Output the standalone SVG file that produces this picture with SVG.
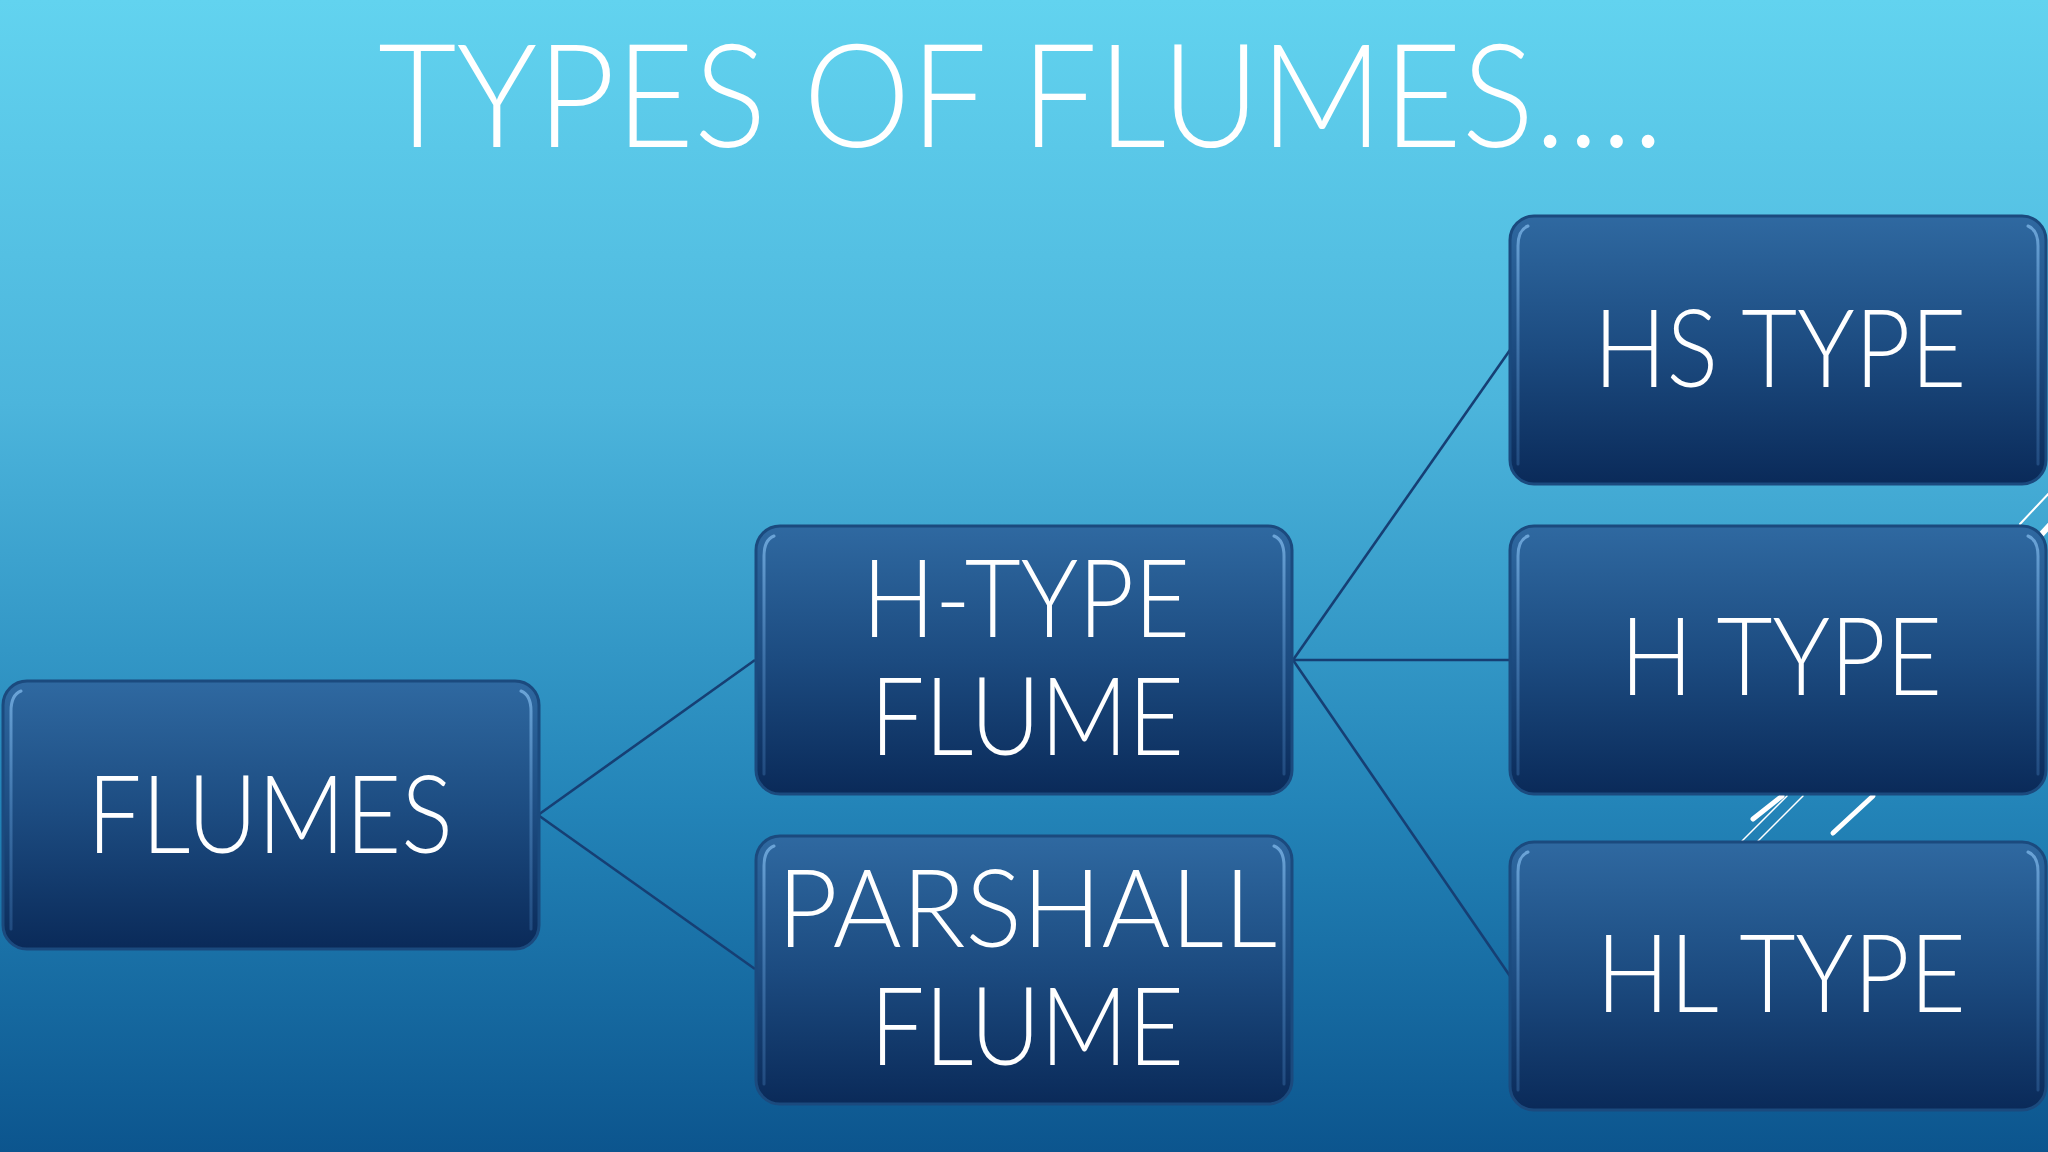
<svg xmlns="http://www.w3.org/2000/svg" width="2048" height="1152" viewBox="0 0 2048 1152">
  <defs>
    <linearGradient id="bg" x1="0" y1="0" x2="0" y2="1">
      <stop offset="0" stop-color="#62d3ef"/>
      <stop offset="0.35" stop-color="#4cb5dc"/>
      <stop offset="0.7" stop-color="#2384b8"/>
      <stop offset="1" stop-color="#0c558e"/>
    </linearGradient>
    <linearGradient id="boxFill" x1="0" y1="0" x2="0" y2="1">
      <stop offset="0" stop-color="#2f69a1"/>
      <stop offset="0.5" stop-color="#1c4b80"/>
      <stop offset="1" stop-color="#0a2a59"/>
    </linearGradient>
    <linearGradient id="edgeHl" x1="0" y1="0" x2="0" y2="1">
      <stop offset="0" stop-color="#7fb8ea" stop-opacity="0.75"/>
      <stop offset="0.5" stop-color="#5e97cf" stop-opacity="0.5"/>
      <stop offset="1" stop-color="#3a6ea8" stop-opacity="0.45"/>
    </linearGradient>
    <style>
      .rim { fill: url(#boxFill); stroke: #1b4a7e; stroke-width: 3; }
      .hl { fill: none; stroke: url(#edgeHl); stroke-width: 3; stroke-linecap: round; }
      .lbl { font-family: "Lato", "Liberation Sans", sans-serif; font-weight: 300; font-size: 108px; fill: #ffffff; text-anchor: middle; }
      .title { font-family: "Lato", "Liberation Sans", sans-serif; font-weight: 300; font-size: 145px; fill: #ffffff; }
      .conn { stroke: #163f74; stroke-width: 2.6; fill: none; }
      .deco { stroke: #ffffff; fill: none; stroke-linecap: round; }
    </style>
    <symbol id="box" viewBox="0 0 536 268" overflow="visible">
      <rect class="rim" x="0" y="0" width="536" height="268" rx="24" ry="24"/>
      <path class="hl" d="M8,248 V30 Q8,14 18,10"/>
      <path class="hl" d="M528,248 V30 Q528,14 518,10"/>
    </symbol>
  </defs>

  <rect x="0" y="0" width="2048" height="1152" fill="url(#bg)"/>

  <text class="title" x="378" y="147" textLength="1286" lengthAdjust="spacingAndGlyphs">TYPES OF FLUMES….</text>

  <g id="decor">
    <line class="deco" x1="2020" y1="524" x2="2052" y2="490" stroke-width="2"/>
    <line class="deco" x1="2038" y1="538" x2="2060" y2="514" stroke-width="6"/>
    <line class="deco" x1="1782" y1="796" x2="1753" y2="819" stroke-width="5"/>
    <line class="deco" x1="1787" y1="796" x2="1742" y2="841" stroke-width="1.5"/>
    <line class="deco" x1="1803" y1="796" x2="1758" y2="841" stroke-width="1.5"/>
    <line class="deco" x1="1873" y1="796" x2="1833" y2="833" stroke-width="5"/>
  </g>

  <g id="connectors">
    <line class="conn" x1="538" y1="815" x2="755" y2="660"/>
    <line class="conn" x1="538" y1="815" x2="755" y2="969"/>
    <line class="conn" x1="1293" y1="660" x2="1510" y2="350"/>
    <line class="conn" x1="1293" y1="660" x2="1510" y2="660" stroke-width="3.5"/>
    <line class="conn" x1="1293" y1="660" x2="1510" y2="976"/>
  </g>

  <g id="node-flumes">
    <use href="#box" x="3" y="681" width="536" height="268"/>
    <text class="lbl" x="270" y="853" textLength="366" lengthAdjust="spacingAndGlyphs">FLUMES</text>
  </g>

  <g id="node-htype-flume">
    <use href="#box" x="756" y="526" width="536" height="268"/>
    <text class="lbl" x="1026" y="637" textLength="328" lengthAdjust="spacingAndGlyphs">H-TYPE</text>
    <text class="lbl" x="1027" y="755" textLength="314" lengthAdjust="spacingAndGlyphs">FLUME</text>
  </g>

  <g id="node-parshall-flume">
    <use href="#box" x="756" y="836" width="536" height="268"/>
    <text class="lbl" x="1027" y="947" textLength="500" lengthAdjust="spacingAndGlyphs">PARSHALL</text>
    <text class="lbl" x="1027" y="1065" textLength="314" lengthAdjust="spacingAndGlyphs">FLUME</text>
  </g>

  <g id="node-hs-type">
    <use href="#box" x="1510" y="216" width="536" height="268"/>
    <text class="lbl" x="1780" y="387" textLength="373" lengthAdjust="spacingAndGlyphs">HS TYPE</text>
  </g>

  <g id="node-h-type">
    <use href="#box" x="1510" y="526" width="536" height="268"/>
    <text class="lbl" x="1781" y="695" textLength="322" lengthAdjust="spacingAndGlyphs">H TYPE</text>
  </g>

  <g id="node-hl-type">
    <use href="#box" x="1510" y="842" width="536" height="268"/>
    <text class="lbl" x="1781" y="1012" textLength="370" lengthAdjust="spacingAndGlyphs">HL TYPE</text>
  </g>
</svg>
